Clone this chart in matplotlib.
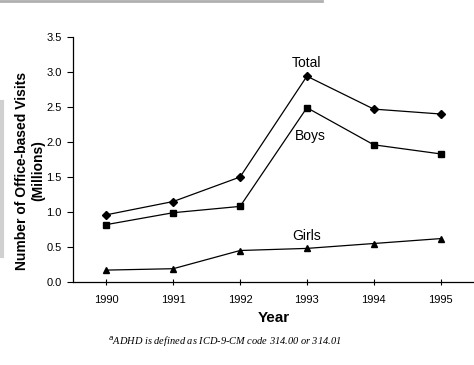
import matplotlib.pyplot as plt
from matplotlib.lines import Line2D

years = [1990, 1991, 1992, 1993, 1994, 1995]
total = [0.96, 1.15, 1.50, 2.94, 2.47, 2.40]
boys = [0.82, 0.99, 1.08, 2.49, 1.96, 1.83]
girls = [0.17, 0.19, 0.45, 0.48, 0.55, 0.62]
yticks = [0.0, 0.5, 1.0, 1.5, 2.0, 2.5, 3.0, 3.5]

plt.rcParams['font.family'] = ['Liberation Sans', 'DejaVu Sans']

fig = plt.figure(figsize=(4.74, 3.65), dpi=100)
ax = fig.add_axes([73 / 474, (365 - 282) / 365, 1 - 73 / 474, (282 - 37) / 365])

ax.plot(years, total, color='black', lw=0.9, marker='D', ms=3.8)
ax.plot(years, boys, color='black', lw=0.9, marker='s', ms=4.2)
ax.plot(years, girls, color='black', lw=0.9, marker='^', ms=5)

ax.text(1993.0, 3.03, 'Total', ha='center', va='bottom', fontsize=10)
ax.text(1993.05, 1.98, 'Boys', ha='center', va='bottom', fontsize=10)
ax.text(1993.0, 0.56, 'Girls', ha='center', va='bottom', fontsize=10)

ax.set_xlim(1989.5, 1995.5)
ax.set_ylim(0, 3.5)
ax.set_xticks(years)
ax.set_yticks(yticks)
ax.set_yticklabels([f'{v:.1f}' for v in yticks])
ax.tick_params(axis='y', direction='out', length=4, width=0.8, labelsize=8, pad=4)
ax.tick_params(axis='x', direction='inout', length=5, width=0.8, labelsize=8, pad=7)
for s in ['top', 'right']:
    ax.spines[s].set_visible(False)
ax.spines['left'].set_linewidth(0.9)
ax.spines['bottom'].set_linewidth(0.9)

ax.set_xlabel('Year', fontsize=11, fontweight='bold', labelpad=4)
fig.text(30 / 474, 1 - 171 / 365, 'Number of Office-based Visits\n(Millions)',
         fontsize=10, fontweight='bold', rotation=90, ha='center', va='center',
         multialignment='center')

fig.text(108 / 474, 1 - 345 / 365, r'$^{a}$ADHD is defined as ICD-9-CM code 314.00 or 314.01',
         fontsize=7.5, style='italic', family='Liberation Serif', va='baseline')

# scan edge marks
fig.add_artist(Line2D([0, 0.68], [0.997, 0.997], transform=fig.transFigure,
                      color='#b0b0b0', lw=2))
fig.add_artist(Line2D([0.004, 0.004], [0.3, 0.72], transform=fig.transFigure,
                      color='#d0d0d0', lw=3))

fig.savefig('out.png', dpi=100)
